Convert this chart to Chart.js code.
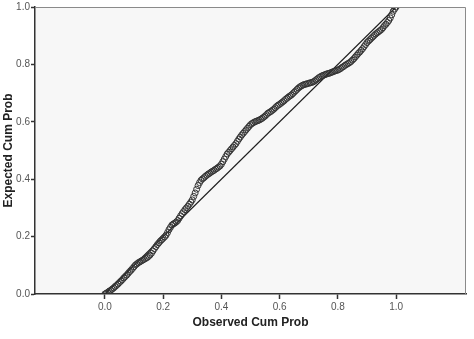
<!DOCTYPE html>
<html>
<head>
<meta charset="utf-8">
<script src="https://cdn.jsdelivr.net/npm/chart.js@4/dist/chart.umd.min.js"></script>
<style>
  html, body { margin: 0; padding: 0; background: #fff; }
  #wrap { width: 474px; height: 339px; }
</style>
</head>
<body>
<div id="wrap"><canvas id="ppChart"></canvas></div>
<script>
// observed vs expected cumulative probability
const observed = [0.00,0.01,0.02,0.03,0.04,0.05,0.06,0.07,0.08,0.09,
  0.10,0.11,0.12,0.13,0.14,0.15,0.16,0.17,0.18,0.19,
  0.20,0.21,0.22,0.23,0.24,0.25,0.26,0.27,0.28,0.29,
  0.30,0.31,0.32,0.33,0.34,0.35,0.36,0.37,0.38,0.39,
  0.40,0.41,0.42,0.43,0.44,0.45,0.46,0.47,0.48,0.49,
  0.50,0.51,0.52,0.53,0.54,0.55,0.56,0.57,0.58,0.59,
  0.60,0.61,0.62,0.63,0.64,0.65,0.66,0.67,0.68,0.69,
  0.70,0.71,0.72,0.73,0.74,0.75,0.76,0.77,0.78,0.79,
  0.80,0.81,0.82,0.83,0.84,0.85,0.86,0.87,0.88,0.89,
  0.90,0.91,0.92,0.93,0.94,0.95,0.96,0.97,0.98,0.99,1.00];
const expected = [0.000,0.006,0.013,0.021,0.030,0.040,0.050,0.061,0.072,0.083,
  0.095,0.105,0.112,0.118,0.124,0.131,0.142,0.158,0.172,0.184,
  0.194,0.205,0.224,0.240,0.247,0.256,0.272,0.287,0.300,0.313,
  0.328,0.352,0.378,0.396,0.405,0.414,0.421,0.428,0.435,0.442,
  0.452,0.470,0.488,0.500,0.512,0.524,0.540,0.554,0.566,0.578,
  0.590,0.597,0.602,0.606,0.612,0.620,0.630,0.636,0.644,0.654,
  0.661,0.669,0.678,0.686,0.693,0.703,0.713,0.722,0.728,0.731,
  0.734,0.737,0.742,0.750,0.757,0.762,0.766,0.769,0.773,0.777,
  0.780,0.786,0.793,0.800,0.806,0.815,0.826,0.838,0.849,0.862,
  0.876,0.886,0.896,0.906,0.914,0.922,0.935,0.946,0.962,0.985,1.000];
// the in-between cases (the band is dense)
const observedB = [0.005,0.015,0.025,0.035,0.045,0.055,0.065,0.075,0.085,0.095,
  0.105,0.115,0.125,0.135,0.145,0.155,0.165,0.175,0.185,0.195,
  0.205,0.215,0.225,0.235,0.245,0.255,0.265,0.275,0.285,0.295,
  0.305,0.315,0.325,0.335,0.345,0.355,0.365,0.375,0.385,0.395,
  0.405,0.415,0.425,0.435,0.445,0.455,0.465,0.475,0.485,0.495,
  0.505,0.515,0.525,0.535,0.545,0.555,0.565,0.575,0.585,0.595,
  0.605,0.615,0.625,0.635,0.645,0.655,0.665,0.675,0.685,0.695,
  0.705,0.715,0.725,0.735,0.745,0.755,0.765,0.775,0.785,0.795,
  0.805,0.815,0.825,0.835,0.845,0.855,0.865,0.875,0.885,0.895,
  0.905,0.915,0.925,0.935,0.945,0.955,0.965,0.975,0.985,0.995];
const expectedB = [0.003,0.010,0.017,0.026,0.035,0.045,0.056,0.066,0.078,0.089,
  0.101,0.109,0.115,0.121,0.127,0.136,0.150,0.165,0.178,0.189,
  0.199,0.214,0.232,0.244,0.251,0.264,0.280,0.294,0.306,0.320,
  0.340,0.365,0.388,0.401,0.410,0.418,0.425,0.431,0.438,0.446,
  0.461,0.479,0.494,0.506,0.518,0.532,0.547,0.560,0.572,0.584,
  0.594,0.600,0.604,0.609,0.616,0.625,0.633,0.640,0.649,0.658,
  0.665,0.673,0.682,0.690,0.698,0.708,0.718,0.725,0.730,0.733,
  0.736,0.739,0.746,0.754,0.760,0.764,0.768,0.771,0.775,0.779,
  0.783,0.790,0.797,0.803,0.810,0.820,0.832,0.843,0.855,0.869,
  0.881,0.891,0.901,0.910,0.918,0.928,0.940,0.953,0.973,0.993];
// diagonal reference line
const refLine = [0, 1];
const tickValues = [0, 0.2, 0.4, 0.6, 0.8, 1.0];

const points = observed.map((x, i) => ({ x: x, y: expected[i] }))
  .concat(observedB.map((x, i) => ({ x: x, y: expectedB[i] })))
  .sort((a, b) => a.x - b.x);
const diag = refLine.map(v => ({ x: v, y: v }));

// light grey plot background and thin frame on top/right
const plotBg = {
  id: 'plotBg',
  beforeDraw(chart) {
    const { ctx, chartArea: a } = chart;
    ctx.save();
    ctx.fillStyle = '#f7f7f7';
    ctx.fillRect(a.left, a.top, a.right - a.left, a.bottom - a.top);
    ctx.restore();
  },
  afterDraw(chart) {
    const { ctx, chartArea: a } = chart;
    ctx.save();
    ctx.strokeStyle = '#8a8a8a';
    ctx.lineWidth = 1;
    ctx.beginPath();
    ctx.moveTo(a.left, a.top + 0.5);
    ctx.lineTo(a.right - 0.5, a.top + 0.5);
    ctx.lineTo(a.right - 0.5, a.bottom);
    ctx.stroke();
    ctx.restore();
  }
};

const fixedTicks = scale => {
  scale.ticks = tickValues.map(v => ({ value: v }));
};

new Chart(document.getElementById('ppChart').getContext('2d'), {
  type: 'scatter',
  data: {
    datasets: [
      {
        label: 'Observed',
        data: points,
        pointRadius: 3,
        pointBorderWidth: 1,
        pointBorderColor: '#333',
        pointBackgroundColor: 'rgba(0,0,0,0)',
        showLine: false
      },
      {
        label: 'Reference',
        type: 'line',
        data: diag,
        borderColor: '#1e1e1e',
        borderWidth: 1.2,
        pointRadius: 0,
        fill: false
      }
    ]
  },
  options: {
    responsive: true,
    maintainAspectRatio: false,
    animation: false,
    layout: { padding: { top: 4, right: 8, left: 0, bottom: 0 } },
    plugins: {
      legend: { display: false },
      tooltip: { enabled: false }
    },
    scales: {
      x: {
        type: 'linear',
        min: -0.24,
        max: 1.24,
        afterBuildTicks: fixedTicks,
        afterFit: s => { s.height = 45; },
        grid: { drawOnChartArea: false, tickLength: 5, color: '#333', tickWidth: 1.5 },
        border: { color: '#333', width: 1.5 },
        ticks: {
          color: '#555',
          font: { family: 'Liberation Sans', size: 10 },
          padding: 2,
          callback: v => v.toFixed(1)
        },
        title: {
          display: true,
          text: 'Observed Cum Prob',
          color: '#222',
          font: { family: 'Liberation Sans', size: 12, weight: 'bold' },
          padding: { top: 2, bottom: 9 }
        }
      },
      y: {
        type: 'linear',
        min: 0,
        max: 1,
        afterBuildTicks: fixedTicks,
        afterFit: s => { s.width = 35; },
        grid: { drawOnChartArea: false, tickLength: 4, color: '#333', tickWidth: 1.5 },
        border: { color: '#333', width: 1.5 },
        ticks: {
          color: '#555',
          font: { family: 'Liberation Sans', size: 10 },
          padding: 1,
          callback: v => v.toFixed(1)
        },
        title: {
          display: true,
          text: 'Expected Cum Prob',
          color: '#222',
          font: { family: 'Liberation Sans', size: 12, weight: 'bold' },
          padding: { top: 1, bottom: 0 }
        }
      }
    }
  },
  plugins: [plotBg]
});
</script>
</body>
</html>
